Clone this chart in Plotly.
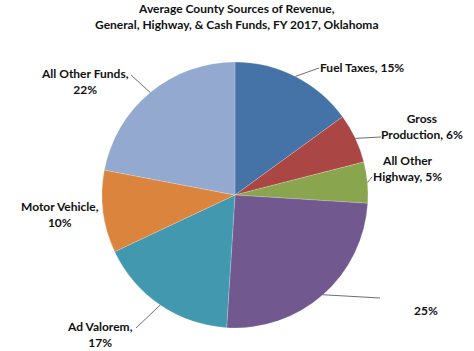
import math
import plotly.graph_objects as go

categories = ["Fuel Taxes", "Gross Production", "All Other Highway", "", "Ad Valorem", "Motor Vehicle", "All Other Funds"]
values = [15, 6, 5, 25, 17, 10, 22]
colors = ["#4572A7", "#AA4643", "#89A54E", "#71588F", "#4198AF", "#DB843D", "#93A9CF"]
label_texts = ["Fuel Taxes, 15%", "Gross<br>Production, 6%", "All Other<br>Highway, 5%", "25%",
               "Ad Valorem,<br>17%", "Motor Vehicle,<br>10%", "All Other Funds,<br>22%"]

W, H = 474, 351
CX, CY, R = 235, 195, 133

# label anchor positions (pixels) and leader end points (None => no leader)
label_pos = [(362, 67), (422, 126), (407, 168), (426, 310), (100, 334), (60, 214), (85, 81)]
leader_end = [(319, 68), (381, 137), (372, 177), (380, 298), (136, 328), None, (131, 75)]

def px(x):
    return x / W

def py(y):
    return 1 - y / H

fig = go.Figure(go.Pie(
    labels=categories, values=values, sort=False, direction="clockwise", rotation=0,
    marker=dict(colors=colors, line=dict(color="rgba(255,255,255,0.4)", width=0.5)),
    textinfo="none", hoverinfo="label+percent", showlegend=False,
    domain=dict(x=[px(CX - R), px(CX + R)], y=[py(CY + R), py(CY - R)]),
))

total = sum(values)
cum = 0
annotations = []
shapes = []
for v, txt, (lx, ly), le in zip(values, label_texts, label_pos, leader_end):
    mid = (cum + v / 2) / total * 2 * math.pi
    cum += v
    sx = CX + R * math.sin(mid)
    sy = CY - R * math.cos(mid)
    if le is not None:
        shapes.append(dict(type="line", xref="paper", yref="paper",
                           x0=px(sx), y0=py(sy), x1=px(le[0]), y1=py(le[1]),
                           line=dict(color="#6f6f6f", width=1)))
    annotations.append(dict(text="<b>" + txt + "</b>", x=px(lx), y=py(ly), xref="paper", yref="paper",
                            showarrow=False, align="center", xanchor="center", yanchor="middle",
                            font=dict(family="Lato", size=12, color="#111111")))

annotations.append(dict(text="<b>Average County Sources of Revenue,<br>General, Highway, & Cash Funds, FY 2017, Oklahoma</b>",
                        x=px(237), y=py(17), xref="paper", yref="paper", showarrow=False,
                        align="center", xanchor="center", yanchor="middle",
                        font=dict(family="Lato", size=12, color="#111111")))

fig.update_layout(width=W, height=H, margin=dict(l=0, r=0, t=0, b=0),
                  paper_bgcolor="white", plot_bgcolor="white",
                  annotations=annotations, shapes=shapes)
fig.write_html("out.html")
